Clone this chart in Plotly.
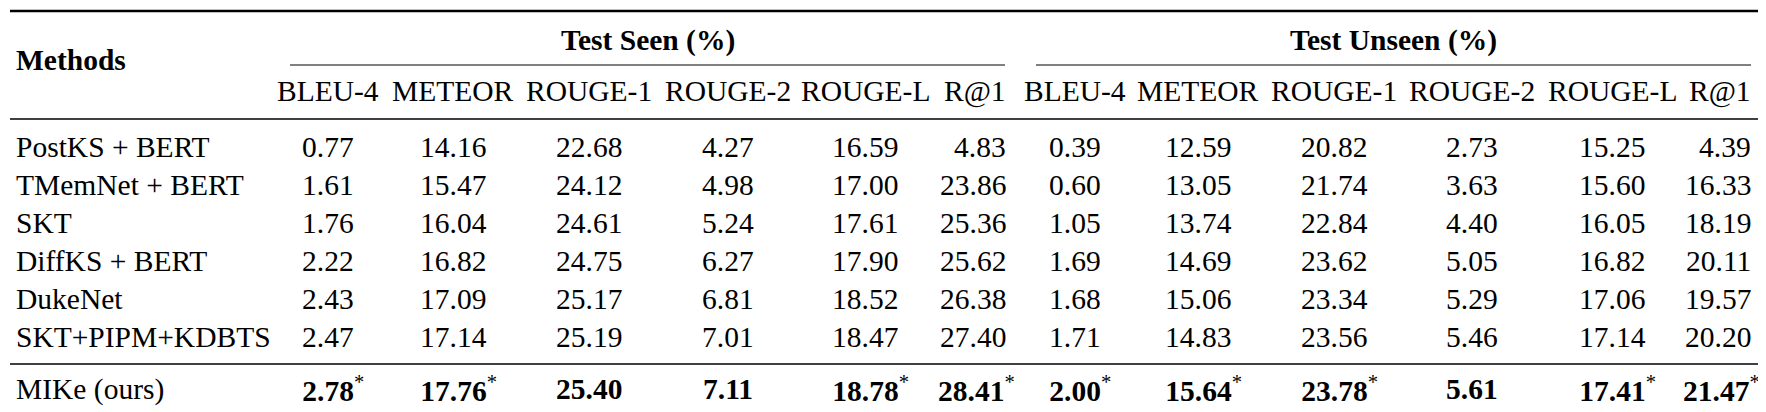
import plotly.graph_objects as go

# ---- table content ----
GROUPS = ["Test Seen (%)", "Test Unseen (%)"]
METRICS = ["BLEU-4", "METEOR", "ROUGE-1", "ROUGE-2", "ROUGE-L", "R@1"]
METHODS = ["PostKS + BERT", "TMemNet + BERT", "SKT", "DiffKS + BERT", "DukeNet", "SKT+PIPM+KDBTS"]
OURS_NAME = "MIKe (ours)"

# seen metrics first, then unseen metrics
POSTKS = [0.77, 14.16, 22.68, 4.27, 16.59, 4.83, 0.39, 12.59, 20.82, 2.73, 15.25, 4.39]
TMEMNET = [1.61, 15.47, 24.12, 4.98, 17.00, 23.86, 0.60, 13.05, 21.74, 3.63, 15.60, 16.33]
SKT = [1.76, 16.04, 24.61, 5.24, 17.61, 25.36, 1.05, 13.74, 22.84, 4.40, 16.05, 18.19]
DIFFKS = [2.22, 16.82, 24.75, 6.27, 17.90, 25.62, 1.69, 14.69, 23.62, 5.05, 16.82, 20.11]
DUKENET = [2.43, 17.09, 25.17, 6.81, 18.52, 26.38, 1.68, 15.06, 23.34, 5.29, 17.06, 19.57]
SKT_PIPM = [2.47, 17.14, 25.19, 7.01, 18.47, 27.40, 1.71, 14.83, 23.56, 5.46, 17.14, 20.20]
BASELINES = [POSTKS, TMEMNET, SKT, DIFFKS, DUKENET, SKT_PIPM]

OURS = [2.78, 17.76, 25.40, 7.11, 18.78, 28.41, 2.00, 15.64, 23.78, 5.61, 17.41, 21.47]
OURS_SIG = [True, True, False, False, True, True, True, True, True, False, True, True]

# ---- layout (pixel space) ----
W, H = 1766, 412
FONT = "Liberation Serif"
FS = 29.5
LEFT = 8
COL_X = [320, 445, 581, 720, 857, 998, 1067, 1190, 1326, 1464, 1604, 1743]
RIGHT_COLS = {5, 11}  # R@1 columns are right aligned
GROUP_SPAN = [(282, 997), (1028, 1743)]
Y_GROUP, Y_METHODS, Y_METRIC = 32, 52, 83
Y_ROW0, ROW_STEP = 139, 38
Y_OURS = 381
RULES = [(3, 2.6), (111, 1.4), (356, 1.4), (409, 2.6)]
Y_CMID = 57
STAR_W = 9  # width of the superscript asterisk, it hangs past the column

hidden = "<span style='color:rgba(0,0,0,0)'><sup>*</sup></span>"

fig = go.Figure()


def cell(x, y, text, anchor="center", xshift=0):
    fig.add_annotation(x=x, y=y, xref="x", yref="y", text=text, showarrow=False,
                       xanchor=anchor, yanchor="middle", borderpad=0, borderwidth=0,
                       xshift=xshift, font=dict(family=FONT, size=FS, color="black"))


# header
for (a, b), g in zip(GROUP_SPAN, GROUPS):
    cell((a + b) / 2, Y_GROUP, f"<b>{g}</b>")
cell(LEFT, Y_METHODS, "<b>Methods</b>", "left")
for i, m in enumerate(METRICS * 2):
    cell(COL_X[i], Y_METRIC, m, "right" if i in RIGHT_COLS else "center")

# baseline rows
row_y = [Y_ROW0 + ROW_STEP * k for k in range(len(METHODS))]
for name, row, y in zip(METHODS, BASELINES, row_y):
    cell(LEFT, y, name, "left")
    for i, v in enumerate(row):
        cell(COL_X[i], y, f"{v:.2f}", "right" if i in RIGHT_COLS else "center")

# our row (bold, * = significant)
cell(LEFT, Y_OURS, OURS_NAME, "left")
for i, (v, sig) in enumerate(zip(OURS, OURS_SIG)):
    num = f"<b>{v:.2f}</b>"
    if i in RIGHT_COLS:
        if sig:
            cell(COL_X[i], Y_OURS, num + "<sup>*</sup>", "right", xshift=STAR_W)
        else:
            cell(COL_X[i], Y_OURS, num, "right")
    else:
        cell(COL_X[i], Y_OURS, hidden + num + "<sup>*</sup>" if sig else num)

# booktabs rules
for y, w in RULES:
    fig.add_shape(type="line", xref="x", yref="y", x0=2, x1=1760, y0=y, y1=y,
                  line=dict(color="black", width=w))
for a, b in GROUP_SPAN:
    fig.add_shape(type="line", xref="x", yref="y", x0=a, x1=b, y0=Y_CMID, y1=Y_CMID,
                  line=dict(color="black", width=1))

fig.update_layout(
    width=W, height=H,
    margin=dict(l=0, r=0, t=0, b=0),
    plot_bgcolor="white", paper_bgcolor="white",
    xaxis=dict(range=[0, W], visible=False, fixedrange=True),
    yaxis=dict(range=[H, 0], visible=False, fixedrange=True),
    showlegend=False,
)

fig.write_html("out.html")
